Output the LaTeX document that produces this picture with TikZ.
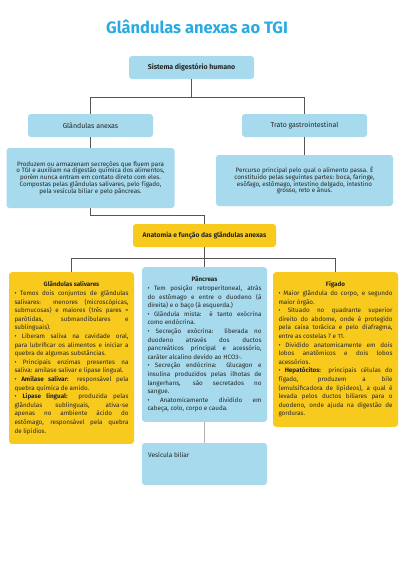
\documentclass[tikz,border=0pt]{standalone}
\usepackage{fontspec}
\setmainfont{Fira Sans}
\definecolor{titcyan}{RGB}{41,171,226}
\definecolor{boxblue}{RGB}{166,218,236}
\definecolor{boxyellow}{RGB}{249,202,30}
\definecolor{linegray}{RGB}{85,85,85}
\newcommand{\boxhead}[1]{\makebox[\linewidth]{\textbf{#1}}\\}
\hyphenpenalty=10000
\exhyphenpenalty=10000

\begin{document}
\begin{tikzpicture}[x=1pt,y=-1pt,
  box/.style={rounded corners=3pt,inner sep=0pt,text=black!85},
  small/.style={box,minimum height=23pt,font=\fontsize{7}{8}\selectfont},
  desc/.style={box,fill=boxblue,align=center,font=\fontsize{6.3}{6.8}\selectfont},
  longbox/.style={box,anchor=north,text width=114pt,inner xsep=5.5pt,inner ysep=9.5pt,align=justify,
    font=\fontsize{6.3}{8.6}\selectfont},
  conn/.style={draw=linegray,line width=0.7pt}]
\useasboundingbox[fill=white] (0,0) rectangle (408,562);
\node[font=\fontsize{16.5}{19}\selectfont\bfseries,text=titcyan] (tit) at (197,27) {Glândulas anexas ao TGI};
\node[small,fill=boxblue,minimum width=125pt,font=\fontsize{7}{8}\selectfont\bfseries] (sis) at (191.5,67.5) {Sistema digestório humano};
\node[small,fill=boxblue,minimum width=125pt] (gla) at (90.5,125.5) {Glândulas anexas};
\node[small,fill=boxblue,minimum width=125pt] (tra) at (304.5,125.5) {Trato gastrointestinal};
\node[desc,minimum width=168pt,minimum height=60pt] (glad) at (90.5,178) {Produzem ou armazenam secreções que fluem para\\o TGI e auxiliam na digestão química dos alimentos,\\porém nunca entram em contato direto com eles.\\Compostas pelas glândulas salivares, pelo fígado,\\pela vesícula biliar e pelo pâncreas.};
\node[desc,minimum width=177pt,minimum height=51pt] (trad) at (304.5,180.5) {Percurso principal pelo qual o alimento passa. É\\constituído pelas seguintes partes: boca, faringe,\\esôfago, estômago, intestino delgado, intestino\\grosso, reto e ânus.};
\node[small,fill=boxyellow,minimum width=143pt,font=\fontsize{6.7}{8}\selectfont\bfseries] (anat) at (204.5,235.5) {Anatomia e função das glândulas anexas};
\node[longbox,fill=boxyellow] (sal) at (71.5,272) {\boxhead{Glândulas salivares}
• Temos dois conjuntos de glândulas\linebreak salivares: menores (microscópicas,\linebreak submucosas) e maiores (três pares =\linebreak parótidas, submandibulares e\linebreak sublinguais).\\
• Liberam saliva na cavidade oral,\linebreak para lubrificar os alimentos e iniciar a\linebreak quebra de algumas substâncias.\\
• Principais enzimas presentes na\linebreak saliva: amilase salivar e lipase lingual.\\
• \textbf{Amilase salivar:} responsável pela\linebreak quebra química de amido.\\
• \textbf{Lipase lingual:} produzida pelas\linebreak glândulas sublinguais, ativa-se\linebreak apenas no ambiente ácido do\linebreak estômago, responsável pela quebra\linebreak de lipídios.};
\node[longbox,fill=boxblue] (pan) at (204.5,267) {\boxhead{Pâncreas}
• Tem posição retroperitoneal, atrás\linebreak do estômago e entre o duodeno (à\linebreak direita) e o baço (à esquerda.)\\
• Glândula mista: é tanto exócrina\linebreak como endócrina.\\
• Secreção exócrina: liberada no\linebreak duodeno através dos ductos\linebreak pancreáticos principal e acessório,\linebreak caráter alcalino devido ao HCO3-.\\
• Secreção endócrina: Glucagon e\linebreak insulina produzidos pelas ilhotas de\linebreak langerhans, são secretados no\linebreak sangue.\\
• Anatomicamente dividido em\linebreak cabeça, colo, corpo e cauda.};
\node[longbox,fill=boxyellow] (fig) at (335.5,272) {\boxhead{Fígado}
• Maior glândula do corpo, e segundo\linebreak maior órgão.\\
• Situado no quadrante superior\linebreak direito do abdome, onde é protegido\linebreak pela caixa torácica e pelo diafragma,\linebreak entre as costelas 7 e 11.\\
• Dividido anatomicamente em dois\linebreak lobos anatômicos e dois lobos\linebreak acessórios.\\
• \textbf{Hepatócitos:} principais células do\linebreak fígado, produzem a bile\linebreak (emulsificadora de lipídeos), a qual é\linebreak levada pelos ductos biliares para o\linebreak duodeno, onde ajuda na digestão de\linebreak gorduras.};
\node[box,fill=boxblue,minimum width=125pt,minimum height=42pt] (ves) at (204.5,464) {};
\node[anchor=north west,inner sep=0pt,font=\fontsize{6.5}{7}\selectfont,text=black!85] (vest) at (148,452) {Vesícula biliar};
\draw[conn] (sis.south) -- ++(0,18) -| (gla.north);
\draw[conn] (sis.south) -- ++(0,18) -| (tra.north);
\draw[conn] (gla) -- (glad);
\draw[conn] (tra) -- (trad);
\draw[conn] (glad.south) -- ++(0,7) -| (anat.north);
\draw[conn] (anat.south) -- ++(0,11) -| (sal.north);
\draw[conn] (anat.south) -- ++(0,11) -| (fig.north);
\draw[conn] (anat) -- (pan);
\draw[conn,draw=gray!60] (pan) -- (ves);
\end{tikzpicture}
\end{document}
